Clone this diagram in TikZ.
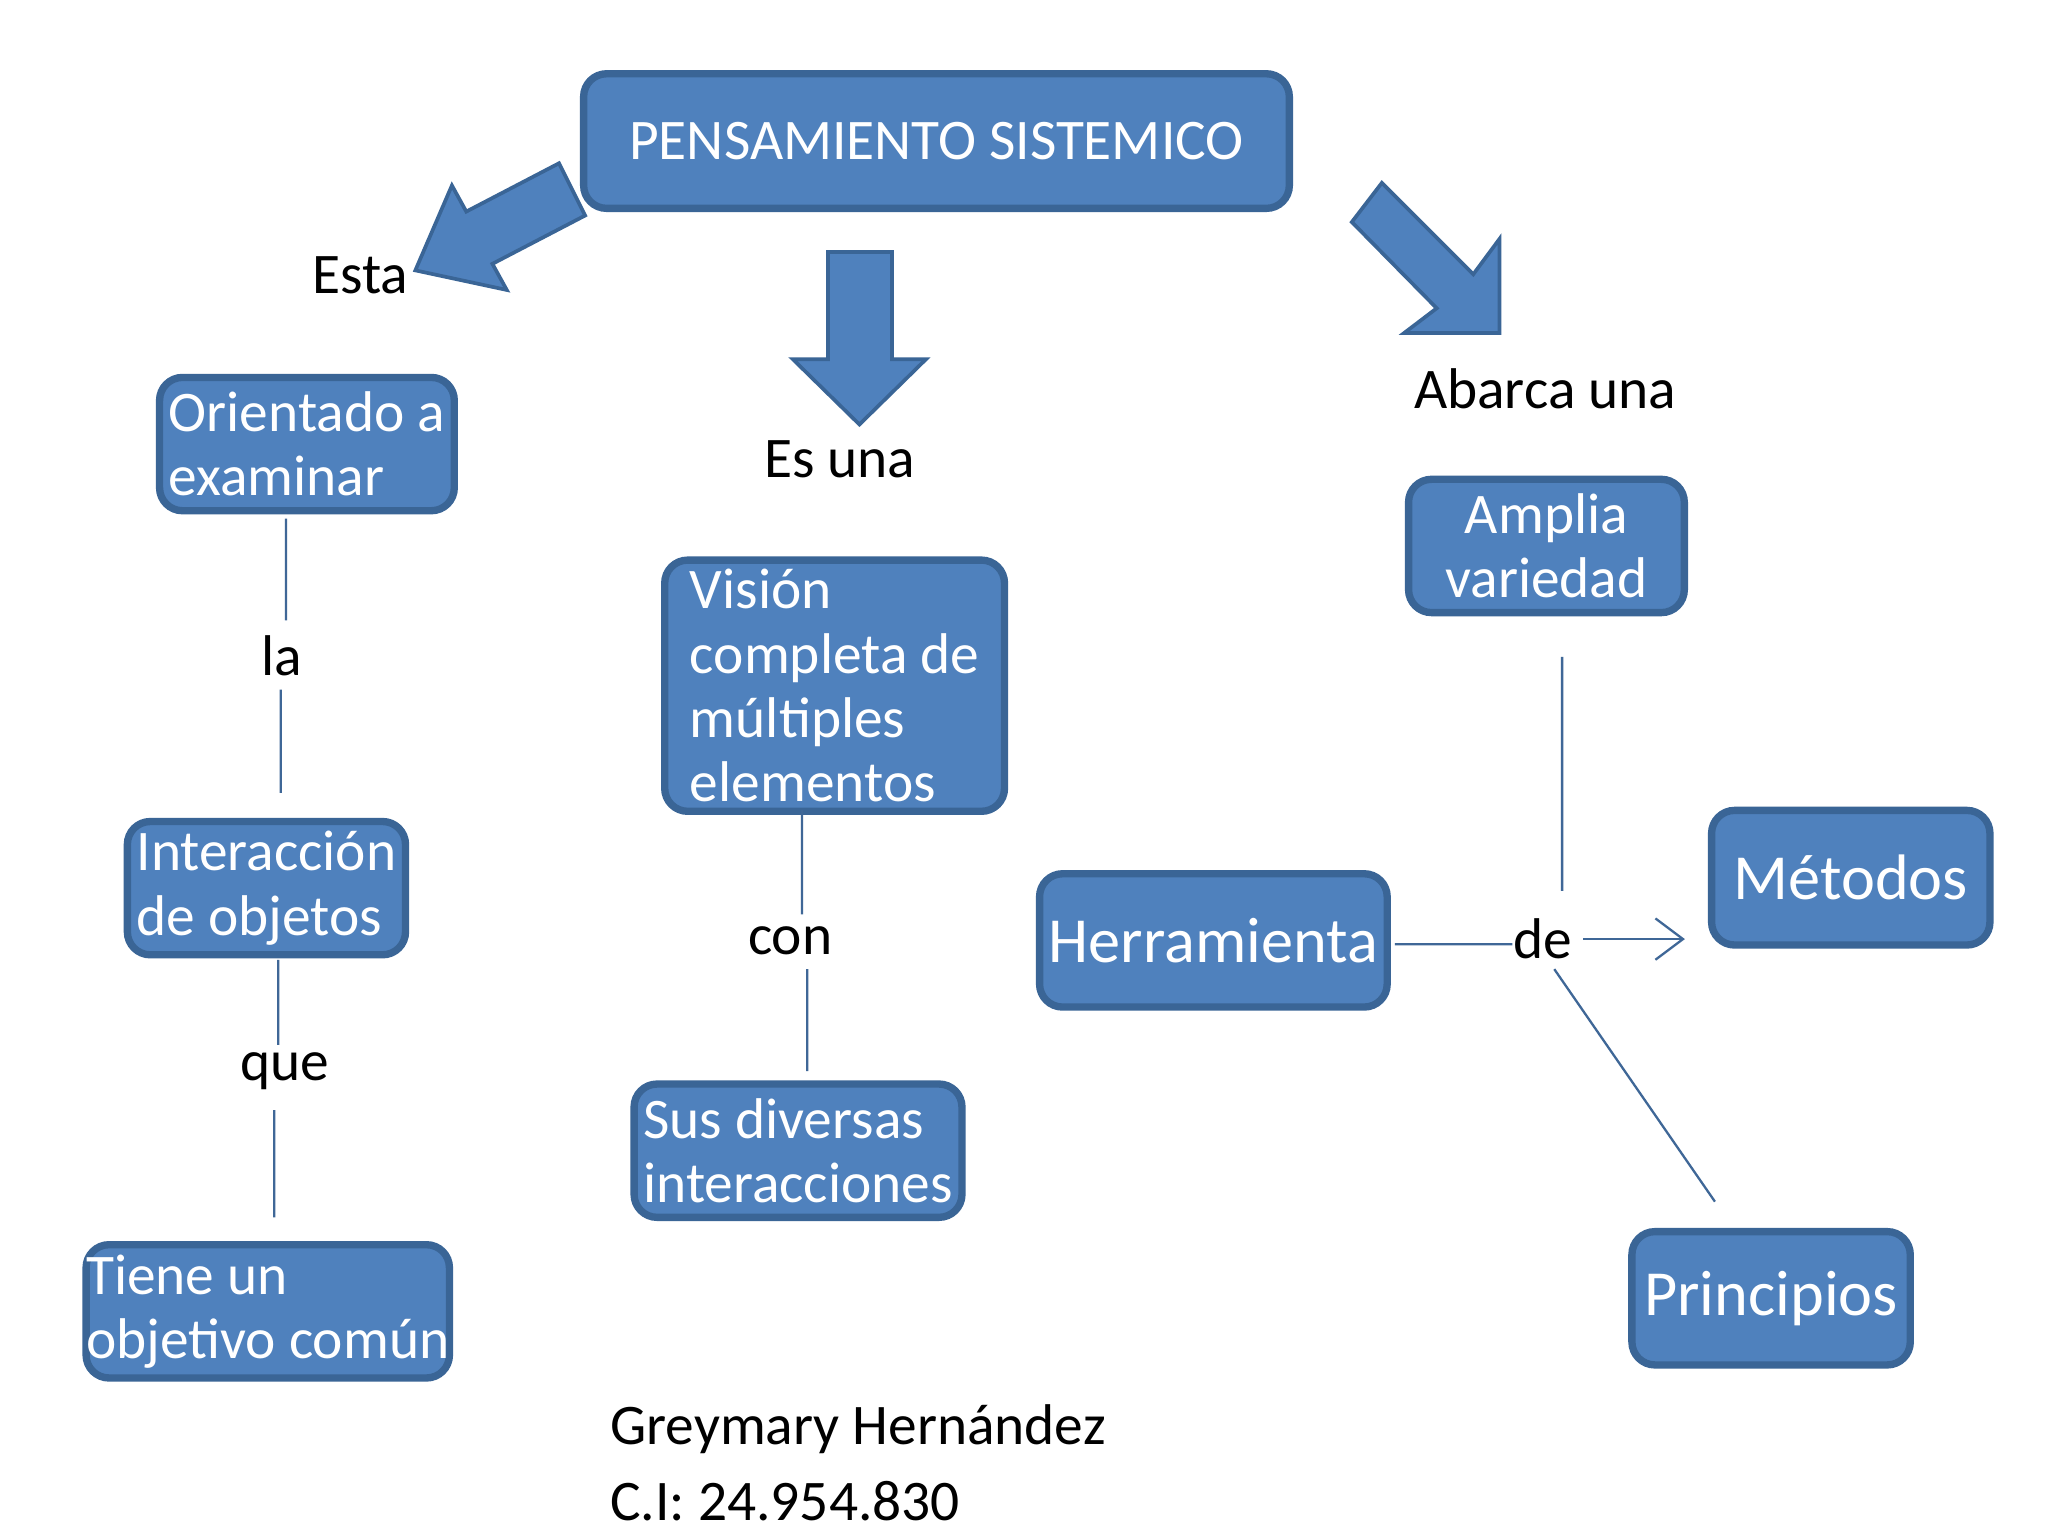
\documentclass[tikz,border=0pt]{standalone}
\usepackage{fontspec}
\setmainfont{Carlito}
\usetikzlibrary{arrows.meta}
\definecolor{bfill}{HTML}{4F81BD}
\definecolor{bline}{HTML}{3A6596}
\begin{document}
\begin{tikzpicture}[x=0.01cm,y=-0.01cm,
  box/.style={draw=bline,line width=1.6pt,fill=bfill,rounded corners=5pt,text=white,font=\fontsize{12.5}{14}\selectfont,inner sep=2pt},
  lab/.style={font=\fontsize{12.5}{14}\selectfont,inner sep=1pt},
  ln/.style={draw=bfill!80!black,line width=0.5pt},
  barrow/.style={fill=bfill,draw=bline,line width=0.8pt}]
\useasboundingbox[fill=white] (0,0) rectangle (1568,1176);
\node[box,minimum width=540\pgflinewidth,minimum width=15.3cm*0+5.4cm,minimum height=1.03cm] (ps) at (717,108) {PENSAMIENTO SISTEMICO};
\node[box,minimum width=2.12cm,minimum height=1.02cm,align=left] (or) at (235,340) {Orientado a\\examinar};
\node[box,minimum width=2.12cm,minimum height=1.02cm,align=left] (in) at (204,680) {Interacción\\de objetos};
\node[box,minimum width=2.12cm,minimum height=1.02cm,align=left,inner sep=0pt] (ti) at (205,1004) {Tiene un\\objetivo común};
\node[box,minimum width=2.6cm,minimum height=1.64cm,align=left] (vi) at (639,525) {Visión\\completa de\\múltiples\\elementos};
\node[box,minimum width=2.11cm,minimum height=1.02cm,align=left] (su) at (611,881) {Sus diversas\\interacciones};
\node[box,minimum width=2.48cm,minimum height=1.02cm,font=\fontsize{14}{16}\selectfont] (he) at (929,720) {Herramienta};
\node[box,minimum width=2.11cm,minimum height=1.02cm,align=center] (am) at (1184,418) {Amplia\\variedad};
\node[box,minimum width=2.13cm,minimum height=1.03cm,font=\fontsize{14}{16}\selectfont] (me) at (1417,672) {Métodos};
\node[box,minimum width=2.13cm,minimum height=1.02cm,font=\fontsize{14}{16}\selectfont] (pr) at (1356,994) {Principios};

\node[lab] (esta) at (276,211) {Esta};
\node[lab] (esuna) at (643,352) {Es una};
\node[lab] (abarca) at (1183,298) {Abarca una};
\node[lab] (la) at (216,502) {la};
\node[lab] (que) at (218,820) {que};
\node[lab] (con) at (605,720) {con};
\node[lab] (de) at (1181,719) {de};
\node[lab,anchor=west,align=left,font=\fontsize{12.5}{16.5}\selectfont] (au) at (463,1120) {Greymary Hernández\\C.I: 24.954.830};

\coordinate (o1) at (219,397); \coordinate (o2) at (219,475);
\coordinate (o3) at (215,528); \coordinate (o4) at (215,607);
\coordinate (i1) at (213,735); \coordinate (i2) at (213,800);
\coordinate (i3) at (210,850); \coordinate (i4) at (210,932);
\coordinate (v1) at (614,620); \coordinate (v2) at (614,700);
\coordinate (v3) at (618,742); \coordinate (v4) at (618,820);
\coordinate (a1) at (1196,503); \coordinate (a2) at (1196,682);
\coordinate (h1) at (1068,723); \coordinate (h2) at (1158,723);
\coordinate (d1) at (1212,719); \coordinate (d2) at (1290,719);
\coordinate (p1) at (1190,742); \coordinate (p2) at (1313,920);
\draw[ln] (o1)--(o2) (o3)--(o4) (i1)--(i2) (i3)--(i4) (v1)--(v2) (v3)--(v4) (a1)--(a2) (h1)--(h2) (p1)--(p2);
\draw[ln,-{Straight Barb[length=6pt,width=9pt]}] (d1)--(d2);

\draw[barrow] (448,165)--(377,202)--(388,222)--(318,207)--(346,142)--(357,162)--(428,125)--cycle;
\draw[barrow] (634,193)--(683,193)--(683,275)--(709,275)--(658,325)--(607,275)--(634,275)--cycle;
\draw[barrow] (1058,140)--(1128,210)--(1148,183)--(1148,255)--(1075,255)--(1100,236)--(1035,170)--cycle;
\end{tikzpicture}
\end{document}
